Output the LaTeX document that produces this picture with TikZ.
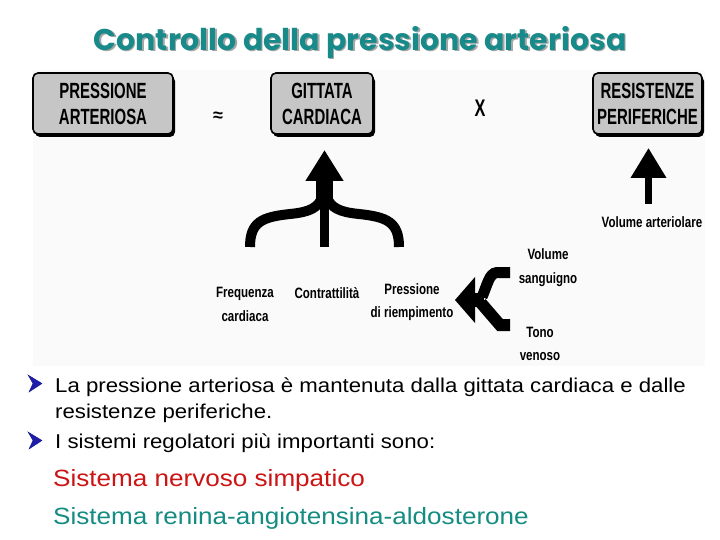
\documentclass[tikz,border=0pt]{standalone}
\usepackage{fontspec}
\setmainfont{Liberation Sans}
\newfontfamily\bodyfont[FakeStretch=1.11]{Liberation Sans}
\newfontfamily\boxfont[FakeStretch=0.68]{Liberation Sans}
\newfontfamily\labfont[FakeStretch=0.77]{Liberation Sans}
\newfontfamily\ttlfont{Poppins}
\usetikzlibrary{arrows.meta,shadows}
\definecolor{boxgray}{RGB}{198,198,198}
\definecolor{ttlteal}{RGB}{24,138,138}
\definecolor{redtxt}{RGB}{204,20,20}
\definecolor{tealtxt}{RGB}{20,140,130}
\definecolor{bullblue}{RGB}{30,30,170}
\definecolor{panel}{RGB}{250,250,250}
\begin{document}
\begin{tikzpicture}[x=1pt,y=-1pt,
  gbox/.style={draw=black,line width=1.6pt,fill=boxgray,rounded corners=5pt,
    minimum height=61pt,align=center,inner sep=0pt,
    font=\boxfont\bfseries\fontsize{22}{26}\selectfont,
    drop shadow={shadow xshift=2pt,shadow yshift=-3pt,opacity=1,fill=black}},
  lab/.style={align=center,inner sep=0pt,font=\labfont\bfseries\fontsize{15}{23.5}\selectfont},
  body/.style={anchor=base west,inner sep=0pt,font=\bodyfont\fontsize{20}{24}\selectfont},
  big/.style={anchor=base west,inner sep=0pt,font=\bodyfont\fontsize{23.5}{28}\selectfont},
  bull/.style={fill=bullblue,draw=bullblue!80!black,line width=0.4pt},
  thick arm/.style={line width=10pt},
]
\useasboundingbox (0,0) rectangle (720,540);
\fill[white] (0,0) rectangle (720,540);
\fill[panel] (33,70) rectangle (705,366);

% title
\node[inner sep=0pt,text=black!35,font=\ttlfont\bfseries\fontsize{30}{34}\selectfont] at (361.5,43.5) {Controllo della pressione arteriosa};
\node (title) [inner sep=0pt,text=ttlteal,font=\ttlfont\bfseries\fontsize{30}{34}\selectfont] at (360,42) {Controllo della pressione arteriosa};

% boxes
\node (pa) [gbox,minimum width=140pt] at (103,103.5) {PRESSIONE\\ARTERIOSA};
\node (gc) [gbox,minimum width=102pt] at (322,103.5) {GITTATA\\CARDIACA};
\node (rp) [gbox,minimum width=109pt] at (647.5,103.5) {RESISTENZE\\PERIFERICHE};
\node (eq) [inner sep=0pt,font=\bfseries\fontsize{18}{18}\selectfont] at (218,117) {≈};
\node (times) [inner sep=0pt,font=\boxfont\bfseries\fontsize{24}{24}\selectfont] at (480,108) {X};

% labels
\node (va) [lab] at (652,222) {Volume arteriolare};
\node (fc) [lab] at (245,304.5) {Frequenza\\cardiaca};
\node (ct) [lab] at (327,293) {Contrattilità};
\node (pr) [lab] at (412,302) {Pressione\\di riempimento};
\node (vs) [lab] at (548,267.5) {Volume\\sanguigno};
\node (tv) [lab] at (540,344) {Tono\\venoso};

% arrow to resistenze
\coordinate (vab) at (648.5,204);
\draw[line width=7pt,-{Triangle[width=34pt,length=30pt]}] (vab) -- (648.5,148);

% brace and arrow to gittata
\coordinate (bl) at (250,247);
\coordinate (br) at (399,247);
\coordinate (bc) at (324.5,247);
\draw[thick arm] (bl) .. controls (250,222) and (262,217) .. (290,214)
   .. controls (310,212) and (318,208) .. (323,196);
\draw[thick arm] (br) .. controls (399,222) and (387,217) .. (359,214)
   .. controls (339,212) and (331,208) .. (326,196);
\draw[line width=9pt] (bc) -- (324.5,195);
\draw[line width=17pt] (324.5,205) -- (324.5,178);
\draw[line width=9pt,-{Triangle[width=36pt,length=31pt]}] (324.5,190) -- (324.5,150);

% fork arrow to pressione di riempimento
\coordinate (fu) at (510,272.5);
\coordinate (fd) at (510,325);
\coordinate (fk) at (484,300);
\coordinate (ftip) at (455,300);
\draw[line width=11pt] (fu) -- (497,272.5) .. controls (489,273) and (487,286) .. (482,297);
\draw[line width=12pt] (fd) -- (500,325) -- (481,303);
\draw[line width=14pt] (fk) -- (472,300);
\fill (ftip) -- (475,277) -- (475,323) -- cycle;

% bullets
\fill[bull] (28,375) -- (42,383.5) -- (29,392) -- (33,383.5) -- cycle;
\fill[bull] (28,432) -- (42,440.5) -- (29,449) -- (33,440.5) -- cycle;
\node (b1) [body] at (55,392) {La pressione arteriosa è mantenuta dalla gittata cardiaca e dalle};
\node (b1b) [body] at (55,418) {resistenze periferiche.};
\node (b2) [body] at (55,448) {I sistemi regolatori più importanti sono:};
\node (s1) [big,text=redtxt] at (53,486) {Sistema nervoso simpatico};
\node (s2) [big,text=tealtxt] at (53,524) {Sistema renina-angiotensina-aldosterone};
\end{tikzpicture}
\end{document}
